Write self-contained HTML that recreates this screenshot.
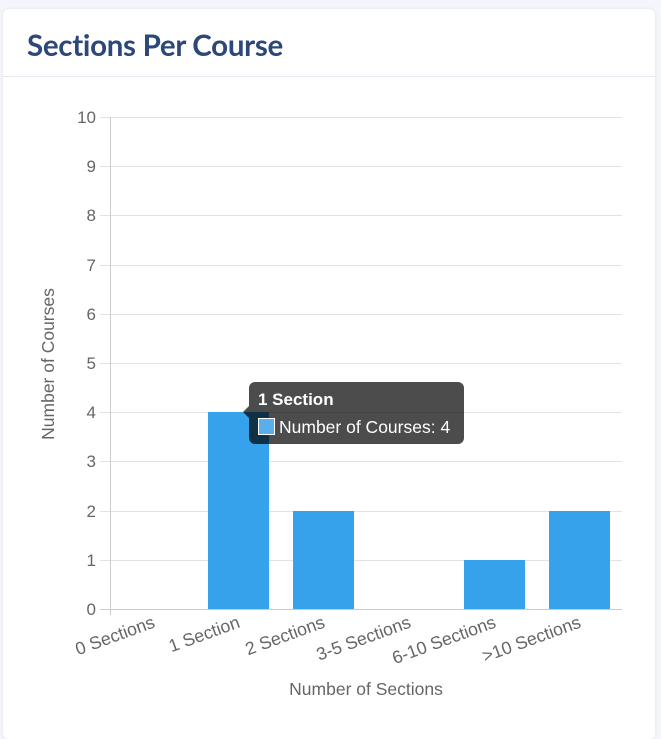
<!DOCTYPE html>
<html><head><style>
body{margin:0;background:#f4f6fb;width:661px;height:726px;overflow:hidden;font-family:"Liberation Sans",sans-serif;}
.card{position:absolute;left:3px;top:9px;width:652px;height:730px;background:#fff;border-radius:6px;box-shadow:0 0 4px rgba(0,0,0,0.08);}
.hdr{height:67px;border-bottom:1px solid #e6e9ef;}
.hdr h1{margin:0;position:absolute;left:24px;top:19px;font-size:29.5px;font-weight:bold;color:#2c4878;font-family:"Lato","Liberation Sans",sans-serif;letter-spacing:-0.3px;}
svg{position:absolute;left:0;top:0;}
</style></head><body>
<div class="card"><div class="hdr"><h1>Sections Per Course</h1></div></div>
<svg width="661" height="726" font-family="Liberation Sans, sans-serif">
<g stroke="#e2e2e2" stroke-width="1">
<line x1="100" y1="117.5" x2="622" y2="117.5"/><line x1="100" y1="166.5" x2="622" y2="166.5"/>
<line x1="100" y1="215.5" x2="622" y2="215.5"/><line x1="100" y1="265.5" x2="622" y2="265.5"/>
<line x1="100" y1="314.5" x2="622" y2="314.5"/><line x1="100" y1="363.5" x2="622" y2="363.5"/>
<line x1="100" y1="412.5" x2="622" y2="412.5"/><line x1="100" y1="461.5" x2="622" y2="461.5"/>
<line x1="100" y1="511.5" x2="622" y2="511.5"/><line x1="100" y1="560.5" x2="622" y2="560.5"/>
<line x1="100" y1="609.5" x2="622" y2="609.5" stroke="#ccc"/>
<line x1="110.5" y1="117" x2="110.5" y2="615" stroke="#ccc"/>
</g>
<g font-size="17" fill="#666" text-anchor="end">
<text x="96" y="123">10</text><text x="96" y="172">9</text><text x="96" y="221">8</text>
<text x="96" y="271">7</text><text x="96" y="320">6</text><text x="96" y="369">5</text>
<text x="96" y="418">4</text><text x="96" y="467">3</text><text x="96" y="517">2</text>
<text x="96" y="566">1</text><text x="96" y="615">0</text>
</g>
<g fill="#36a2eb">
<rect x="208" y="412" width="61" height="197"/>
<rect x="293" y="511" width="61" height="98"/>
<rect x="464" y="560" width="61" height="49"/>
<rect x="549" y="511" width="61" height="98"/>
</g>
<g font-size="17.8" fill="#666" text-anchor="end">
<text transform="translate(156,627) rotate(-20)">0 Sections</text>
<text transform="translate(241,627) rotate(-20)">1 Section</text>
<text transform="translate(326,627) rotate(-20)">2 Sections</text>
<text transform="translate(412,627) rotate(-20)">3-5 Sections</text>
<text transform="translate(497,627) rotate(-20)">6-10 Sections</text>
<text transform="translate(582,627) rotate(-20)">&gt;10 Sections</text>
</g>
<text x="366" y="695" font-size="17.5" fill="#666" text-anchor="middle">Number of Sections</text>
<text transform="translate(54,364) rotate(-90)" font-size="17.5" fill="#666" text-anchor="middle">Number of Courses</text>
<g>
<rect x="249" y="382" width="215" height="62" rx="6" fill="rgba(0,0,0,0.7)"/>
<polygon points="249,406 243,412 249,418" fill="rgba(0,0,0,0.7)"/>
<text x="258" y="405" font-size="17" font-weight="bold" fill="#fff">1 Section</text>
<rect x="258.5" y="418.5" width="16" height="16" fill="#5aaeea" stroke="#fff" stroke-width="1"/>
<text x="279" y="433" font-size="17.5" fill="#fff">Number of Courses: 4</text>
</g>
</svg>
</body></html>
